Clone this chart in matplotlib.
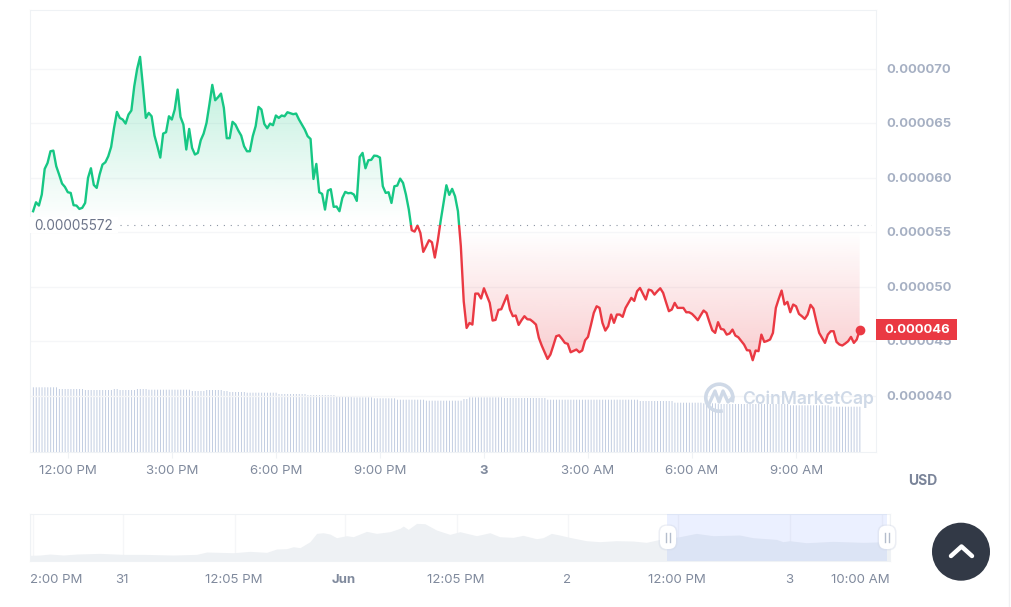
import numpy as np
import matplotlib
matplotlib.use("Agg")
import matplotlib.pyplot as plt
from matplotlib.patches import Rectangle, Circle, Arc, FancyBboxPatch
from matplotlib.path import Path
from matplotlib.transforms import ScaledTranslation

plt.rcParams['font.family'] = ['Inter', 'DejaVu Sans']

# price every 5 minutes, in units of 0.000001 USD
price = [
    56.94, 57.76, 57.46, 58.47, 60.82, 61.37, 62.44, 62.50, 61.07, 60.30, 59.48, 59.17, 58.68, 58.62, 57.49, 57.46,
    57.15, 57.25, 57.70, 60.00, 60.88, 59.35, 59.08, 60.30, 61.22, 61.43, 61.98, 62.84, 64.58, 66.05, 65.50, 65.35,
    64.98, 65.81, 66.18, 68.41, 70.00, 71.10, 68.41, 65.50, 65.96, 65.65, 63.88, 62.90, 61.86, 64.06, 64.19, 65.65,
    65.35, 66.27, 68.10, 65.59, 64.89, 62.60, 64.49, 62.75, 62.14, 62.29, 63.45, 64.06, 65.04, 66.73, 68.53, 67.12,
    67.40, 67.73, 66.42, 63.64, 63.64, 65.14, 64.89, 64.34, 63.88, 62.90, 62.44, 62.44, 63.82, 64.74, 66.51, 66.27,
    64.95, 64.55, 64.98, 64.83, 65.72, 65.50, 65.72, 65.65, 66.02, 65.93, 65.84, 65.90, 65.35, 64.90, 64.43, 63.82,
    63.57, 59.90, 61.28, 58.68, 58.53, 57.09, 58.83, 58.96, 57.34, 57.37, 56.94, 58.16, 58.71, 58.59, 58.62, 58.47,
    57.89, 61.92, 62.29, 60.88, 61.62, 61.65, 62.04, 62.01, 61.86, 59.23, 58.62, 58.68, 57.70, 59.23, 59.29, 59.93,
    59.54, 58.47, 57.09, 55.20, 55.07, 55.62, 54.95, 53.21, 53.73, 54.28, 54.09, 52.69, 54.19, 56.02, 57.70, 59.32,
    58.44, 58.99, 58.31, 56.94, 53.73, 48.68, 46.23, 46.69, 46.54, 49.38, 49.38, 48.93, 49.87, 49.20, 48.53, 46.91,
    46.97, 47.89, 47.95, 48.59, 49.23, 47.92, 47.31, 47.37, 46.51, 46.94, 47.31, 47.03, 47.00, 46.79, 46.54, 45.32,
    44.61, 44.00, 43.39, 43.79, 44.61, 45.47, 45.56, 45.23, 44.86, 44.77, 44.00, 44.12, 44.25, 44.00, 44.16, 45.10,
    45.41, 46.48, 47.61, 48.22, 48.07, 46.70, 45.99, 46.39, 47.46, 46.70, 47.46, 47.46, 47.25, 48.07, 48.53, 48.99,
    48.71, 49.60, 49.90, 49.36, 48.84, 49.75, 49.66, 49.29, 49.60, 49.87, 49.45, 48.59, 47.77, 47.92, 48.53, 48.07,
    48.07, 48.07, 47.67, 47.67, 47.52, 47.25, 46.94, 47.40, 47.83, 47.61, 46.79, 46.02, 45.78, 46.76, 46.14, 46.08,
    45.62, 45.72, 46.08, 45.53, 45.38, 45.04, 44.71, 44.19, 44.16, 43.27, 44.16, 44.10, 45.62, 44.95, 45.04, 45.17,
    45.78, 48.07, 48.90, 49.66, 48.38, 48.62, 47.67, 48.38, 48.22, 47.52, 47.31, 47.06, 47.46, 48.35, 48.01, 46.85,
    45.78, 45.32, 44.86, 45.62, 45.93, 45.93, 44.95, 44.71, 44.62, 44.80, 45.01, 45.41, 44.86, 45.17, 46.02,
]
base_price = 55.72

# volume bars hold the same height for a while, so level + how many bars
volume_levels = [64.7, 63, 62, 63, 62, 63, 62.3, 61, 62, 61, 60, 59.3, 58, 57, 55.7, 54.7, 53.7, 52.3, 51.3, 53,
                 54.7, 54, 52.3, 51, 49.3, 48.7, 48, 46.7, 45.3]
volume_runs = [10, 9, 10, 2, 6, 4, 15, 5, 6, 2, 6, 11, 10, 10, 6, 7, 8, 10, 13, 2,
               12, 15, 32, 12, 10, 5, 25, 14, 11]

y_ticks = [40, 45, 50, 55, 60, 65, 70]
y_labels = ['0.000040', '0.000045', '0.000050', '0.000055', '0.000060', '0.000065', '0.000070']
x_ticks = [60, 240, 420, 600, 780, 960, 1140, 1320]
x_labels = ['12:00 PM', '3:00 PM', '6:00 PM', '9:00 PM', '3', '3:00 AM', '6:00 AM', '9:00 AM']

# navigator overview, hours from the start of the range
nav_hours = [0, 1.08, 2.16, 3.6, 5.04, 7.55, 10.07, 12.23, 15.47, 17.99, 19.06, 21.94, 23.74, 25.54, 26.62, 27.7,
             28.42, 29.14, 30.22, 30.94, 31.65, 32.37, 33.09, 34.17, 34.89, 36.33, 37.41, 38.85, 39.93, 40.29, 40.83,
             41.73, 42.63, 43.88, 45.32, 46.4, 48.2, 49.64, 50.7, 52.14, 53.22, 54.66, 55.38, 56.28, 57.17, 58.25,
             60.05, 61.49, 63.29, 65.09, 66.53, 67.97, 70.12, 71.92, 73.72, 76.6, 78.04, 80.56, 81.28, 82.0, 83.79,
             86.67, 89.91, 92.8]
nav_price = [13.0, 13.8, 16.2, 13.8, 16.2, 17.8, 15.4, 15.4, 13.8, 15.4, 21.1, 19.4, 22.7, 20.3, 28.4, 29.2,
             34.0, 31.6, 46.2, 66.4, 68.0, 64.8, 55.9, 60.8, 58.3, 71.3, 66.4, 70.5, 78.6, 84.2, 76.1,
             90.7, 89.9, 74.5, 64.0, 70.5, 60.8, 68.0, 58.3, 56.7, 61.6, 53.5, 55.9, 66.4, 62.4, 56.7,
             48.6, 46.2, 48.6, 47.8, 44.6, 51.8, 58.3, 66.4, 60.8, 62.4, 55.9, 51.8, 46.2, 48.6, 43.7,
             47.0, 44.6, 46.2]
nav_ticks = [0, 10.03, 22.1, 33.98, 46.06, 58.04, 69.96, 82.04, 92.8]
nav_labels = ['2:00 PM', '31', '12:05 PM', 'Jun', '12:05 PM', '2', '12:00 PM', '3', '10:00 AM']
nav_window = [68.8, 92.5]

GREEN = '#16c784'
RED = '#ea3943'
GRID = '#f5f6f8'
EDGE = '#eff2f5'

W, H = 1011, 607
fig = plt.figure(figsize=(W / 100, H / 100), dpi=100)
ax = fig.add_axes([30 / W, (H - 452) / H, 846 / W, 442 / H])

price = np.array(price)
t = np.arange(len(price)) * 5
xlim = (-5.4, 1458.3)
ylim = (34.85, 75.40)
ax.set_xlim(xlim)
ax.set_ylim(ylim)

# volume on its own scale, behind the price
ax_vol = ax.twinx()
ax_vol.set_ylim(0, 442)
volume = np.repeat(volume_levels, volume_runs)
ax_vol.bar(-4.6 + 5 * np.arange(len(volume)), volume, width=1.55, color='#bdc9df', linewidth=0, snap=False)
ax_vol.axis('off')
ax.set_zorder(ax_vol.get_zorder() + 1)
ax.patch.set_visible(False)


def gradient_fill(where, color, y_top, y_bottom, a_top, a_bottom):
    poly = ax.fill_between(t, price, base_price, where=where, interpolate=True, color='none')
    clip = Path.make_compound_path(*poly.get_paths())
    grad = np.zeros((256, 1, 4))
    grad[:, :, :3] = matplotlib.colors.to_rgb(color)
    grad[:, 0, 3] = np.linspace(a_top, a_bottom, 256)
    im = ax.imshow(grad, extent=(t[0], t[-1], y_bottom, y_top), aspect='auto', origin='upper', zorder=1)
    im.set_clip_path(clip, ax.transData)


gradient_fill(price >= base_price, GREEN, 71.1, base_price + 0.2, 0.3, 0.0)
gradient_fill(price <= base_price, RED, base_price - 0.6, 43.3, 0.0, 0.25)
ax.set_xlim(xlim)
ax.set_ylim(ylim)

# one line, clipped to each side of the open price
for color, y0, y1 in [(GREEN, base_price, ylim[1]), (RED, ylim[0], base_price)]:
    line, = ax.plot(t, price, color=color, lw=1.7, zorder=3, solid_joinstyle='round')
    line.set_clip_path(Rectangle((xlim[0], y0), xlim[1] - xlim[0], y1 - y0, transform=ax.transData))

ax.plot(t[-1], price[-1], 'o', color=RED, ms=7, mew=0, zorder=4, clip_on=False)
ax.plot([150, 1450], [base_price, base_price], color='#8a93a3', lw=0.8, ls=(0, (1, 5.2)), zorder=2)

ax.yaxis.tick_right()
ax.set_yticks(y_ticks)
ax.set_yticklabels(y_labels, color='#a6b0c3', fontsize=9.4, fontweight='bold')
ax.tick_params(axis='y', length=0, pad=7.5)
for lab in ax.get_yticklabels():
    lab.set_transform(lab.get_transform() + ScaledTranslation(0, 0.5 / 100, fig.dpi_scale_trans))
ax.grid(axis='y', color=GRID, lw=1)
ax.set_axisbelow(True)
ax.set_xticks(x_ticks)
ax.set_xticklabels(x_labels, color='#808a9d', fontsize=9.5)
ax.tick_params(axis='x', length=4, color=EDGE, pad=5)
ax.get_xticklabels()[4].set_fontweight('bold')
for s in ax.spines.values():
    s.set_color(EDGE)
ax_vol.set_ylim(0, 442)

# navigator
ax_nav = fig.add_axes([30 / W, (H - 560.7) / H, 859.7 / W, 47.2 / H])
ax_nav.set_xlim(0, 92.8)
ax_nav.set_ylim(0, 114.7)
ax_nav.fill_between(nav_hours, nav_price, 0, color='#eef1f4', lw=0, zorder=2)
ax_nav.axvspan(nav_window[0], nav_window[1], color='#6188ff', alpha=0.12, lw=0, zorder=3)
ax_nav.axvline(92, color=GRID, lw=1, zorder=1)
ax_nav.axvline(0.3, color=GRID, lw=1, zorder=1)
ax_nav.set_yticks([])
ax_nav.set_xticks(nav_ticks)
ax_nav.set_xticklabels(nav_labels, color='#808a9d', fontsize=9.5)
ax_nav.tick_params(axis='x', length=0, pad=9.5)
ax_nav.grid(axis='x', color=GRID, lw=1, zorder=1)
ax_nav.set_axisbelow(True)
nav_text = ax_nav.get_xticklabels()
nav_text[0].set_ha('left')
nav_text[-1].set_ha('right')
nav_text[3].set_fontweight('bold')
for lab in nav_text[1:-1]:
    lab.set_transform(lab.get_transform() + ScaledTranslation(-1 / 100, 0, fig.dpi_scale_trans))
for s in ax_nav.spines.values():
    s.set_color(EDGE)

# page furniture drawn in pixel coordinates
over = fig.add_axes([0, 0, 1, 1], zorder=10)
over.set_xlim(0, W)
over.set_ylim(H, 0)
over.axis('off')

over.plot([1008.5, 1008.5], [0, H], color='#f0f1f3', lw=1)
over.add_patch(Rectangle((876, 319), 81, 21, color=RED, lw=0))
over.text(917, 330, '0.000046', color='white', fontsize=9.4, fontweight='bold', ha='center', va='center')
over.add_patch(Rectangle((30, 217), 88, 16, color='white', lw=0))
over.text(34.5, 225.5, '0.00005572', color='#6c7489', fontsize=9.8, ha='left', va='center')
over.text(923, 481, 'USD', color='#7a8499', fontsize=10, fontweight='bold', ha='center', va='center')

# watermark
logo = '#cfd9e7'
over.add_patch(Arc((719.3, 397.7), 27, 27, theta1=75, theta2=20, color=logo, lw=2.6))
over.plot([709, 715, 719, 723, 728, 733], [404, 391, 402, 391, 402, 397], color=logo, lw=2.4,
          solid_joinstyle='round', solid_capstyle='round')
over.text(742, 399, 'CoinMarketCap', color=logo, fontsize=12.6, fontweight='semibold', ha='left', va='center')

# navigator handles
for hx in (668, 887):
    over.add_patch(FancyBboxPatch((hx - 9.5, 524.5), 19, 26, boxstyle='round,pad=0,rounding_size=8',
                                  fc='#d5dbe8', ec='none', alpha=0.45))
    over.add_patch(FancyBboxPatch((hx - 8, 525.7), 16, 23.3, boxstyle='round,pad=0,rounding_size=7',
                                  fc='white', ec='none'))
    over.plot([hx - 1.8, hx - 1.8], [533, 542], color='#b4bdcc', lw=1)
    over.plot([hx + 1.8, hx + 1.8], [533, 542], color='#b4bdcc', lw=1)

# back to top button
over.add_patch(Circle((961, 551.7), 29, color='#323946', lw=0))
over.plot([951, 961.5, 972], [556, 546.5, 556], color='white', lw=3.2, solid_capstyle='round',
          solid_joinstyle='round')

fig.savefig('out.png', dpi=100)
